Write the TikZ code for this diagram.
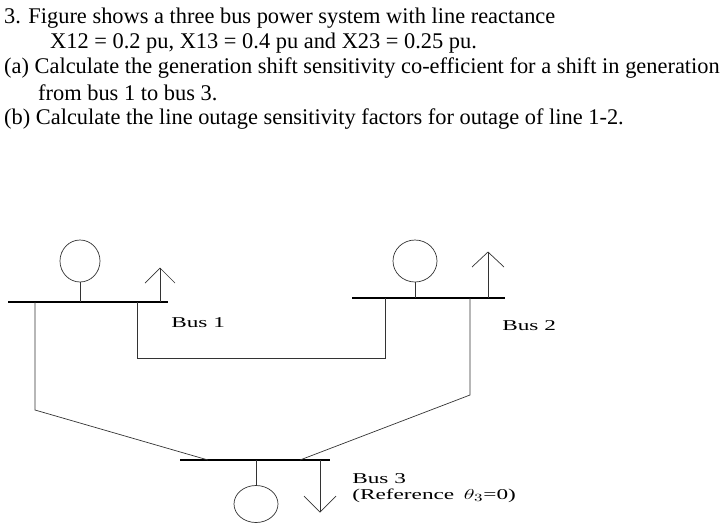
\documentclass[tikz,border=0pt]{standalone}
\usepackage{fontspec}
\setmainfont{Liberation Serif}
\usetikzlibrary{shapes.geometric}
\begin{document}
\begin{tikzpicture}[x=1pt,y=-1pt,
  txt/.style={anchor=west,inner sep=0pt,font=\fontsize{22.4}{26}\selectfont},
  lbl/.style={anchor=west,inner sep=0pt,xscale=1.55,font=\fontsize{15}{17}\selectfont},
  bar/.style={line width=2.4pt},
  ln/.style={line width=0.7pt,black!80},
  gen/.style={draw,black!80,line width=0.7pt,ellipse,minimum width=40pt,minimum height=42pt,inner sep=0pt},
  arr/.style={line width=0.7pt,black!80}]
\useasboundingbox (0,0) rectangle (728,528);
\node[txt] (t1) at (4,18) {3. Figure shows a three bus power system with line reactance};
\node[txt] (t2) at (50,43) {X12 = 0.2 pu, X13 = 0.4 pu and X23 = 0.25 pu.};
\node[txt] (t3) at (4,68) {(a) Calculate the generation shift sensitivity co-efficient for a shift in generation};
\node[txt] (t4) at (38,93) {from bus 1 to bus 3.};
\node[txt] (t5) at (4,119) {(b) Calculate the line outage sensitivity factors for outage of line 1-2.};
% buses
\draw[bar] (8,302) -- (168,302);
\draw[bar] (352,298) -- (505,298);
\draw[bar] (180,460) -- (330,460);
% generators
\node[gen] (g1) at (80,261) {};
\draw[ln] (g1.south) -- (80,302);
\node[gen,minimum width=44pt] (g2) at (415,261) {};
\draw[ln] (g2.south) -- (415,298);
\node[gen,minimum width=44pt,minimum height=37pt] (g3) at (256,504) {};
\draw[ln] (256,460) -- (g3.north);
% loads
\draw[arr] (160,302) -- (160,268) coordinate (a1);
\draw[arr] (145,283) -- (a1) -- (175,283);
\draw[arr] (488,298) -- (488,252) coordinate (a2);
\draw[arr] (472,267) -- (a2) -- (504,267);
\draw[arr] (320,460) -- (320,512) coordinate (a3);
\draw[arr] (304,496) -- (a3) -- (336,496);
% lines
\draw[ln] (35,302) -- (35,410) -- (208,460);
\draw[ln] (137,302) -- (137,358) -- (385,358) -- (385,298);
\draw[ln] (470,298) -- (470,395) -- (300,460);
% labels
\node[lbl] (l1) at (171,323) {Bus 1};
\node[lbl] (l2) at (502,326) {Bus 2};
\node[lbl] (l3) at (352,479) {Bus 3};
\node[lbl] (l4) at (352,496) {(Reference\, $\theta_3$=0)};
\end{tikzpicture}
\end{document}
